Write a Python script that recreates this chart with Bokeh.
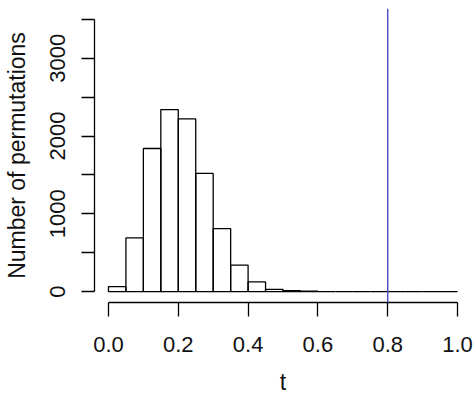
from bokeh.plotting import figure
from bokeh.models import Range1d, FixedTicker, Span
from bokeh.embed import file_html
from bokeh.resources import INLINE

# ---- data ----
bin_edges = [0.00, 0.05, 0.10, 0.15, 0.20, 0.25, 0.30, 0.35, 0.40, 0.45, 0.50,
             0.55, 0.60, 0.65, 0.70, 0.75, 0.80, 0.85, 0.90, 0.95, 1.00]
counts = [65, 690, 1840, 2340, 2220, 1520, 810, 340, 125, 30,
          12, 5, 0, 0, 0, 0, 0, 0, 0, 0]
observed_t = 0.8

x_ticks = [0.0, 0.2, 0.4, 0.6, 0.8, 1.0]
x_tick_labels = ["0.0", "0.2", "0.4", "0.6", "0.8", "1.0"]
y_ticks = [0, 500, 1000, 1500, 2000, 2500, 3000, 3500]
y_tick_labels = ["0", "", "1000", "", "2000", "", "3000", ""]

x_title = "t"
y_title = "Number of permutations"

FONT = "Liberation Sans"
FS = "22px"
FS_LAB = "23px"

p = figure(width=474, height=397,
           x_range=Range1d(-0.04, 1.04), y_range=Range1d(-140, 3640),
           output_backend="svg", toolbar_location=None,
           min_border_left=94, min_border_right=3,
           min_border_top=8, min_border_bottom=94)
p.outline_line_color = None
p.xgrid.visible = False
p.ygrid.visible = False
p.background_fill_color = "white"
p.border_fill_color = "white"

p.quad(left=bin_edges[:-1], right=bin_edges[1:], bottom=[0] * len(counts), top=counts,
       fill_color=None, line_color="black", line_width=1.3)

p.add_layout(Span(location=observed_t, dimension="height",
                  line_color="#4b4bc8", line_width=1.4))

for ax in (p.xaxis[0], p.yaxis[0]):
    ax.axis_line_color = "black"
    ax.axis_line_width = 1.3
    ax.major_tick_line_color = "black"
    ax.major_tick_line_width = 1.3
    ax.minor_tick_line_color = None
    ax.major_tick_in = 0
    ax.major_label_text_font = FONT
    ax.major_label_text_font_size = FS
    ax.major_label_text_color = "#111111"
    ax.axis_label_text_font = FONT
    ax.axis_label_text_font_size = FS_LAB
    ax.axis_label_text_font_style = "normal"
    ax.axis_label_text_color = "#111111"

xa = p.xaxis[0]
xa.bounds = (x_ticks[0], x_ticks[-1])
xa.ticker = FixedTicker(ticks=x_ticks)
xa.major_label_overrides = {t: l for t, l in zip(x_ticks, x_tick_labels)}
xa.major_tick_out = 14
xa.major_label_standoff = 20
xa.axis_label = x_title
xa.axis_label_standoff = 14

ya = p.yaxis[0]
ya.bounds = (y_ticks[0], y_ticks[-1])
ya.ticker = FixedTicker(ticks=y_ticks)
ya.major_label_overrides = {t: l for t, l in zip(y_ticks, y_tick_labels)}
ya.major_tick_out = 13
ya.major_label_standoff = 16
ya.major_label_orientation = "vertical"
ya.axis_label = y_title
ya.axis_label_standoff = 18

open("out.html", "w").write(file_html(p, INLINE))
